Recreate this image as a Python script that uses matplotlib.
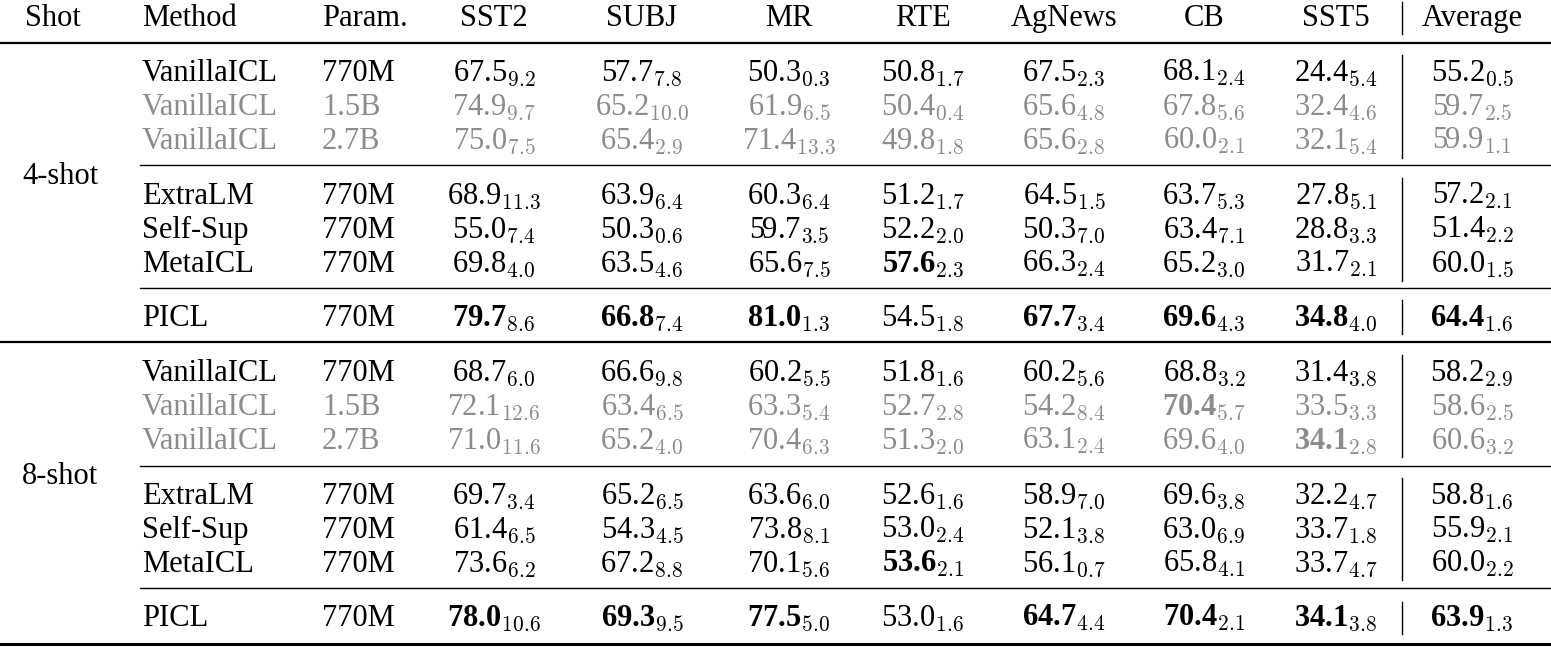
import matplotlib
matplotlib.use("Agg")
import matplotlib.pyplot as plt

# colonne e righe della tabella
columns = ["SST2", "SUBJ", "MR", "RTE", "AgNews", "CB", "SST5"]
shots = ["4-shot", "8-shot"]
methods = ["VanillaICL", "VanillaICL", "VanillaICL", "ExtraLM", "Self-Sup", "MetaICL", "PICL"]
params = ["770M", "1.5B", "2.7B", "770M", "770M", "770M", "770M"]
greyed = [False, True, True, False, False, False, False]

# 4-shot: media e deviazione (ultima colonna = Average)
mean_4 = [
    [67.5, 57.7, 50.3, 50.8, 67.5, 68.1, 24.4, 55.2],
    [74.9, 65.2, 61.9, 50.4, 65.6, 67.8, 32.4, 59.7],
    [75.0, 65.4, 71.4, 49.8, 65.6, 60.0, 32.1, 59.9],
    [68.9, 63.9, 60.3, 51.2, 64.5, 63.7, 27.8, 57.2],
    [55.0, 50.3, 59.7, 52.2, 50.3, 63.4, 28.8, 51.4],
    [69.8, 63.5, 65.6, 57.6, 66.3, 65.2, 31.7, 60.0],
    [79.7, 66.8, 81.0, 54.5, 67.7, 69.6, 34.8, 64.4],
]
std_4 = [
    [9.2, 7.8, 0.3, 1.7, 2.3, 2.4, 5.4, 0.5],
    [9.7, 10.0, 6.5, 0.4, 4.8, 5.6, 4.6, 2.5],
    [7.5, 2.9, 13.3, 1.8, 2.8, 2.1, 5.4, 1.1],
    [11.3, 6.4, 6.4, 1.7, 1.5, 5.3, 5.1, 2.1],
    [7.4, 0.6, 3.5, 2.0, 7.0, 7.1, 3.3, 2.2],
    [4.0, 4.6, 7.5, 2.3, 2.4, 3.0, 2.1, 1.5],
    [8.6, 7.4, 1.3, 1.8, 3.4, 4.3, 4.0, 1.6],
]
bold_4 = [
    [0, 0, 0, 0, 0, 0, 0, 0],
    [0, 0, 0, 0, 0, 0, 0, 0],
    [0, 0, 0, 0, 0, 0, 0, 0],
    [0, 0, 0, 0, 0, 0, 0, 0],
    [0, 0, 0, 0, 0, 0, 0, 0],
    [0, 0, 0, 1, 0, 0, 0, 0],
    [1, 1, 1, 0, 1, 1, 1, 1],
]

# 8-shot
mean_8 = [
    [68.7, 66.6, 60.2, 51.8, 60.2, 68.8, 31.4, 58.2],
    [72.1, 63.4, 63.3, 52.7, 54.2, 70.4, 33.5, 58.6],
    [71.0, 65.2, 70.4, 51.3, 63.1, 69.6, 34.1, 60.6],
    [69.7, 65.2, 63.6, 52.6, 58.9, 69.6, 32.2, 58.8],
    [61.4, 54.3, 73.8, 53.0, 52.1, 63.0, 33.7, 55.9],
    [73.6, 67.2, 70.1, 53.6, 56.1, 65.8, 33.7, 60.0],
    [78.0, 69.3, 77.5, 53.0, 64.7, 70.4, 34.1, 63.9],
]
std_8 = [
    [6.0, 9.8, 5.5, 1.6, 5.6, 3.2, 3.8, 2.9],
    [12.6, 6.5, 5.4, 2.8, 8.4, 5.7, 3.3, 2.5],
    [11.6, 4.0, 6.3, 2.0, 2.4, 4.0, 2.8, 3.2],
    [3.4, 6.5, 6.0, 1.6, 7.0, 3.8, 4.7, 1.6],
    [6.5, 4.5, 8.1, 2.4, 3.8, 6.9, 1.8, 2.1],
    [6.2, 8.8, 5.6, 2.1, 0.7, 4.1, 4.7, 2.2],
    [10.6, 9.5, 5.0, 1.6, 4.4, 2.1, 3.8, 1.3],
]
bold_8 = [
    [0, 0, 0, 0, 0, 0, 0, 0],
    [0, 0, 0, 0, 0, 1, 0, 0],
    [0, 0, 0, 0, 0, 0, 1, 0],
    [0, 0, 0, 0, 0, 0, 0, 0],
    [0, 0, 0, 0, 0, 0, 0, 0],
    [0, 0, 0, 1, 0, 0, 0, 0],
    [1, 1, 1, 0, 1, 1, 1, 1],
]

plt.rcParams["font.family"] = ["Liberation Serif", "DejaVu Serif"]
plt.rcParams["mathtext.fontset"] = "cm"

W, H = 1551, 647
fig = plt.figure(figsize=(W / 100, H / 100), dpi=100)
ax = fig.add_axes([0, 0, 1, 1])
ax.set_xlim(0, W)
ax.set_ylim(H, 0)
ax.axis("off")

FS = 22
GREY = "#8c8c8c"

# posizioni (pixel) delle colonne
x_shot, x_method, x_param = 25, 142, 322
x_cols = [494, 642, 789, 923, 1064, 1204, 1336, 1472]
x_bar = 1402
BASE = 11  # distanza centro riga -> baseline

# intestazione
hy = 15
ax.text(x_shot, hy + BASE, "Shot", fontsize=FS, va="baseline", ha="left")
ax.text(x_method, hy + BASE, "Method", fontsize=FS, va="baseline", ha="left")
ax.text(x_param, hy + BASE, "Param.", fontsize=FS, va="baseline", ha="left")
for xc, name in zip(x_cols, columns + ["Average"]):
    ax.text(xc, hy + BASE, name, fontsize=FS, va="baseline", ha="center")
ax.plot([x_bar, x_bar], [2, 34], color="black", lw=1.0)

# righe orizzontali principali
ax.plot([0, W], [43, 43], color="black", lw=1.6)
ax.plot([0, W], [342, 342], color="black", lw=1.6)
ax.plot([0, W], [643.5, 643.5], color="black", lw=2.2)

row_y = {
    0: [70, 104, 138, 193, 227, 261, 315],
    1: [370, 404, 438, 493, 527, 561, 615],
}
shot_y = {0: 173, 1: 473}
sub_lines = {0: [165, 288], 1: [466, 588]}
bar_spans = {0: [(55, 158), (178, 281), (300, 334)],
             1: [(355, 457), (478, 580), (602, 634)]}

for s, (means, stds, bolds) in enumerate([(mean_4, std_4, bold_4), (mean_8, std_8, bold_8)]):
    ax.text(x_shot - 3, shot_y[s] + BASE, shots[s], fontsize=FS, va="baseline", ha="left")
    for yl in sub_lines[s]:
        ax.plot([140, W], [yl, yl], color="black", lw=1.0)
    for y0, y1 in bar_spans[s]:
        ax.plot([x_bar, x_bar], [y0, y1], color="black", lw=1.0)
    for i in range(len(methods)):
        y = row_y[s][i] + BASE
        col = GREY if greyed[i] else "black"
        ax.text(x_method, y, methods[i], fontsize=FS, va="baseline", ha="left", color=col)
        ax.text(x_param, y, params[i], fontsize=FS, va="baseline", ha="left", color=col)
        for j, xc in enumerate(x_cols):
            label = f"{means[i][j]:.1f}" + r"$_{" + f"{stds[i][j]:.1f}" + r"}$"
            ax.text(xc, y, label, fontsize=FS, va="baseline", ha="center", color=col,
                    fontweight="bold" if bolds[i][j] else "normal")

fig.savefig("out.png", dpi=100)
